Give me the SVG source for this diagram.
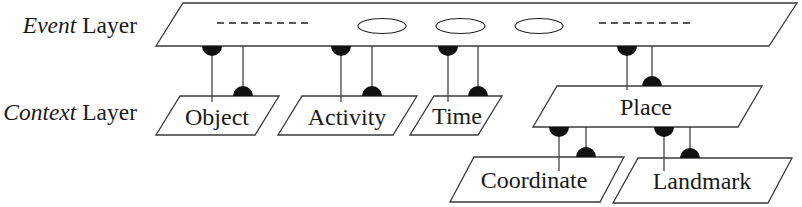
<svg xmlns="http://www.w3.org/2000/svg" xmlns:xlink="http://www.w3.org/1999/xlink" width="802" height="207" viewBox="0 0 802 207">
<style>
.box{fill:#fff;stroke:#3a3a3a;stroke-width:1.3}
.lbl{font-family:"Liberation Serif","Times New Roman",serif;font-size:24px;fill:#1a1a1a;text-anchor:middle}
.lay{font-family:"Liberation Serif","Times New Roman",serif;font-size:23.5px;fill:#1a1a1a;text-anchor:end}
.dash{stroke:#222;stroke-width:1.6;stroke-dasharray:7 5}
.ell{fill:#fff;stroke:#222;stroke-width:1.1}
.ln{stroke:#444;stroke-width:1.3;fill:none}
.disc{fill:#111}
</style>
<defs>
<path id="down" class="disc" d="M-10,0 A10,10 0 0 0 10,0 Z"/>
<path id="up" class="disc" d="M-10,0 A10,10 0 0 1 10,0 Z"/>
</defs>
<g id="labels">
<text class="lay" x="137" y="33"><tspan font-style="italic">Event</tspan> Layer</text>
<text class="lay" x="137" y="120"><tspan font-style="italic">Context</tspan> Layer</text>
</g>
<g id="event">
<polygon class="box" points="183,3 797,3 769,46 156,46"/>
<line class="dash" x1="217" y1="23" x2="308" y2="23"/>
<ellipse class="ell" cx="382" cy="26" rx="24" ry="7.5"/>
<ellipse class="ell" cx="460.5" cy="26" rx="24.5" ry="7.5"/>
<ellipse class="ell" cx="539" cy="26" rx="24" ry="7.5"/>
<line class="dash" x1="599" y1="23" x2="693" y2="23"/>
</g>
<g id="object">
<polygon class="box" points="180,96 279,96 255,135 156,135"/>
<text class="lbl" x="217" y="125">Object</text>
</g>
<g id="activity">
<polygon class="box" points="302,96 417,96 393,135 278,135"/>
<text class="lbl" x="347" y="125">Activity</text>
</g>
<g id="time">
<polygon class="box" points="434,96 502,96 478,135 410,135"/>
<text class="lbl" x="457" y="124">Time</text>
</g>
<g id="place">
<polygon class="box" points="557,86 762,86 738,127 533,127"/>
<text class="lbl" x="646" y="115">Place</text>
</g>
<g id="coordinate">
<polygon class="box" points="474,157 624,157 600,202 450,202"/>
<text class="lbl" x="534" y="188">Coordinate</text>
</g>
<g id="landmark">
<polygon class="box" points="638,158 792,158 768,203 613,203"/>
<text class="lbl" x="702" y="189">Landmark</text>
</g>
<g id="connectors">
<line class="ln" x1="212" y1="46" x2="212" y2="102"/><use xlink:href="#down" x="212" y="46"/>
<line class="ln" x1="243" y1="46" x2="243" y2="96"/><use xlink:href="#up" x="243" y="96"/>
<line class="ln" x1="341" y1="46" x2="341" y2="102"/><use xlink:href="#down" x="341" y="46"/>
<line class="ln" x1="372" y1="46" x2="372" y2="96"/><use xlink:href="#up" x="372" y="96"/>
<line class="ln" x1="448" y1="46" x2="448" y2="102"/><use xlink:href="#down" x="448" y="46"/>
<line class="ln" x1="478" y1="46" x2="478" y2="96"/><use xlink:href="#up" x="478" y="96"/>
<line class="ln" x1="627" y1="46" x2="627" y2="90"/><use xlink:href="#down" x="627" y="46"/>
<line class="ln" x1="652" y1="46" x2="652" y2="86"/><use xlink:href="#up" x="652" y="86"/>
<line class="ln" x1="559" y1="127" x2="559" y2="171"/><use xlink:href="#down" x="559" y="127"/>
<line class="ln" x1="586" y1="127" x2="586" y2="157"/><use xlink:href="#up" x="586" y="157"/>
<line class="ln" x1="664" y1="127" x2="664" y2="171"/><use xlink:href="#down" x="664" y="127"/>
<line class="ln" x1="690" y1="127" x2="690" y2="158"/><use xlink:href="#up" x="690" y="158"/>
</g>
</svg>
